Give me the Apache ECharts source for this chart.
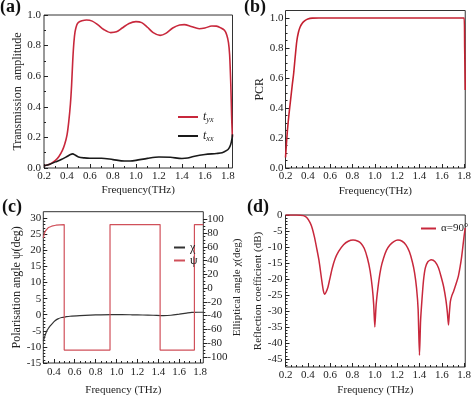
<!DOCTYPE html>
<html><head><meta charset="utf-8">
<script src="https://cdn.jsdelivr.net/npm/echarts@6/dist/echarts.min.js"></script>
<style>html,body{margin:0;padding:0;background:#fff}#c{width:474px;height:397px}</style>
</head><body><div id="c"></div>
<script>
// ---------- data ----------
// (a) transmission amplitude
const aFreqTyx = [0.2,0.25,0.3,0.33,0.36,0.38,0.4,0.415,0.43,0.44,0.45,0.46,0.47,0.485,0.5,0.53,0.57,0.62,0.67,0.72,0.78,0.83,0.88,0.94,1.0,1.05,1.1,1.15,1.21,1.26,1.32,1.38,1.42,1.48,1.55,1.6,1.66,1.7,1.74,1.77,1.79,1.805,1.815,1.825,1.832,1.838,1.84];
const aTyx = [0.015,0.025,0.05,0.075,0.115,0.155,0.215,0.3,0.42,0.54,0.7,0.82,0.89,0.935,0.952,0.962,0.967,0.96,0.935,0.905,0.885,0.89,0.915,0.945,0.957,0.95,0.92,0.885,0.867,0.88,0.915,0.935,0.937,0.925,0.91,0.915,0.928,0.927,0.915,0.9,0.87,0.82,0.74,0.55,0.35,0.22,0.2];
const aFreqTxx = [0.2,0.25,0.3,0.35,0.4,0.43,0.45,0.47,0.5,0.55,0.6,0.7,0.8,0.9,0.95,1.0,1.1,1.2,1.3,1.4,1.45,1.5,1.6,1.7,1.75,1.79,1.81,1.825,1.835,1.84];
const aTxx = [0.015,0.025,0.04,0.055,0.075,0.088,0.092,0.085,0.072,0.066,0.064,0.064,0.055,0.046,0.046,0.05,0.063,0.072,0.07,0.062,0.065,0.075,0.088,0.095,0.1,0.115,0.13,0.155,0.19,0.22];
const aXTicks = [0.2,0.4,0.6,0.8,1.0,1.2,1.4,1.6,1.8];
const aYTicks = [0.0,0.2,0.4,0.6,0.8,1.0];
// (b) PCR
const bFreq = [0.2,0.215,0.23,0.245,0.26,0.273,0.288,0.302,0.316,0.331,0.35,0.374,0.4,0.44,0.5,0.8,1.2,1.6,1.8,1.805,1.81];
const bPcr = [0.07,0.23,0.35,0.45,0.55,0.63,0.75,0.85,0.905,0.94,0.965,0.982,0.993,0.999,1,1,1,1,1,0.8,0.52];
const bXTicks = [0.2,0.4,0.6,0.8,1.0,1.2,1.4,1.6,1.8];
const bYTicks = [0.0,0.2,0.4,0.6,0.8,1.0];
// (c) polarisation angle psi (left axis) and elliptical angle chi (right axis)
const cFreqPsi = [0.3,0.31,0.32,0.332,0.35,0.38,0.42,0.5,0.5,0.938,0.938,1.417,1.417,1.745,1.745,1.83];
const cPsi = [23.9,25.2,26.0,26.6,27.1,27.5,27.8,28.0,-11,-11,28.0,28.0,-11,-11,28.0,28.0];
const cFreqChi = [0.3,0.31,0.32,0.332,0.348,0.364,0.39,0.412,0.44,0.476,0.52,0.555,0.65,0.75,0.85,0.95,1.05,1.15,1.25,1.35,1.45,1.52,1.6,1.67,1.72,1.78,1.83];
const cChi = [-77.0,-72.4,-67.7,-63.0,-58.8,-55.5,-50.9,-47.6,-44.8,-42.9,-41.7,-41.0,-40.1,-39.4,-38.9,-38.7,-38.7,-38.9,-39.2,-39.6,-40.1,-39.6,-38.0,-36.4,-35.4,-35.2,-35.2];
const cXTicks = [0.4,0.6,0.8,1.0,1.2,1.4,1.6,1.8];
const cYLeftTicks = [-15,-10,-5,0,5,10,15,20,25,30];
const cYRightTicks = [-100,-80,-60,-40,-20,0,20,40,60,80,100];
// (d) reflection coefficient
const dFreq = [0.2,0.25,0.3,0.36,0.39,0.42,0.44,0.46,0.48,0.5,0.525,0.54,0.552,0.565,0.58,0.595,0.618,0.645,0.676,0.72,0.762,0.805,0.85,0.877,0.905,0.934,0.958,0.978,0.99,1.0,1.012,1.035,1.055,1.078,1.105,1.135,1.17,1.207,1.245,1.28,1.31,1.336,1.356,1.374,1.388,1.4,1.41,1.422,1.436,1.452,1.475,1.505,1.54,1.57,1.594,1.617,1.637,1.65,1.66,1.668,1.677,1.69,1.706,1.728,1.749,1.765,1.778,1.79,1.8,1.81];
const dRefl = [0,0,0,-0.2,-0.8,-2.4,-4.2,-7.0,-10.5,-14.2,-20.5,-23.8,-24.8,-24.0,-22.6,-20.3,-16.7,-13.6,-11.4,-9.3,-8.2,-7.8,-8.2,-8.9,-10.4,-13.5,-17.5,-22.9,-28.0,-35.0,-28.0,-20.8,-16.5,-13.5,-11.0,-9.4,-8.3,-7.8,-8.2,-9.4,-11.5,-14.6,-18.0,-22.9,-29.5,-43.8,-33.0,-26.6,-20.5,-16.6,-14.6,-14.0,-14.6,-16.5,-19.3,-22.5,-26.6,-30.5,-34.4,-30.5,-27.0,-25.2,-23.8,-21.5,-19.0,-16.0,-13.0,-9.5,-6.5,-4.0];
const dXTicks = [0.2,0.4,0.6,0.8,1.0,1.2,1.4,1.6,1.8];
const dYTicks = [0,-5,-10,-15,-20,-25,-30,-35,-40,-45];

// ---------- helpers ----------
const FONT = 'Liberation Serif';
const INK = '#222';
const RED = '#c8283c';
function zip(xs, ys) { return xs.map((x, i) => [x, ys[i]]); }
function range(a, b, s) { const out = []; const n = Math.round((b - a) / s); for (let i = 0; i <= n; i++) out.push(+(a + i * s).toFixed(6)); return out; }

function axisPair(gridIndex, c) {
  const main = {
    type: 'value', gridIndex, min: c.min, max: c.max, position: c.pos,
    axisLine: { show: false, onZero: false },
    splitLine: { show: false },
    axisTick: { show: true, inside: c.inside !== false, length: 4, customValues: c.major, lineStyle: { color: INK, width: 1 } },
    axisLabel: { show: true, customValues: c.major, margin: c.margin, fontFamily: FONT, fontSize: 11, color: INK, formatter: c.fmt },
    name: c.name, nameLocation: 'middle', nameGap: c.gap,
    nameTextStyle: { fontFamily: FONT, fontSize: c.nameSize || 11, color: INK }
  };
  const minor = {
    type: 'value', gridIndex, min: c.min, max: c.max, position: c.pos,
    axisLine: { show: false, onZero: false }, splitLine: { show: false },
    axisLabel: { show: false },
    axisTick: { show: true, inside: c.inside !== false, length: 2, customValues: c.minor, lineStyle: { color: INK, width: 1 } }
  };
  return [main, minor];
}
const f1 = v => v.toFixed(1);
const f0 = v => String(Math.round(v));

const grids = [
  { left: 44, top: 15, width: 188.5, height: 153 },
  { left: 285.5, top: 10.5, width: 187, height: 157.5 },
  { left: 43.3, top: 211.7, width: 160, height: 153.8 },
  { left: 285.5, top: 215, width: 187, height: 152 }
].map(g => Object.assign({ show: true, borderColor: '#333', borderWidth: 1, backgroundColor: 'transparent' }, g));

const xAxes = [], yAxes = [];
// (a)
xAxes.push(...axisPair(0, { min: 0.2, max: 1.84, pos: 'bottom', major: aXTicks, minor: range(0.2, 1.8, 0.1), margin: 3, fmt: f1, name: 'Frequency(THz)', gap: 17 }));
yAxes.push(...axisPair(0, { min: 0, max: 1, pos: 'left', major: aYTicks, minor: range(0, 1, 0.1), margin: 3, fmt: f1, name: 'Transmission  amplitude', gap: 16, nameSize: 12 }));
// (b)
xAxes.push(...axisPair(1, { min: 0.2, max: 1.81, pos: 'bottom', major: bXTicks, minor: range(0.2, 1.8, 0.05), margin: 3, fmt: f1, name: 'Frequency(THz)', gap: 18 }));
yAxes.push(...axisPair(1, { min: 0, max: 1.05, pos: 'left', major: bYTicks, minor: range(0, 1.0, 0.05), margin: 2, fmt: f1, name: 'PCR', gap: 17, nameSize: 12 }));
// (c)
xAxes.push(...axisPair(2, { min: 0.3, max: 1.83, pos: 'bottom', major: cXTicks, minor: range(0.3, 1.8, 0.05), margin: 4, fmt: f1, name: 'Frequency (THz)', gap: 22 }));
yAxes.push(...axisPair(2, { min: -15, max: 32, pos: 'left', major: cYLeftTicks, minor: range(-15, 30, 1), margin: 2, fmt: f0, name: 'Polarisation angle ψ(deg)', gap: 16, nameSize: 12 }));
yAxes.push(...axisPair(2, { min: -109, max: 111, pos: 'right', inside: false, major: cYRightTicks, minor: range(-100, 100, 5), margin: 4, fmt: f0, name: 'Elliptical angle χ(deg)', gap: 22, nameSize: 11 }));
// (d)
xAxes.push(...axisPair(3, { min: 0.2, max: 1.81, pos: 'bottom', major: dXTicks, minor: range(0.2, 1.8, 0.05), margin: 3, fmt: f1, name: 'Frequency (THz)', gap: 18 }));
yAxes.push(...axisPair(3, { min: -47.5, max: 0, pos: 'left', major: dYTicks, minor: range(-47, 0, 1), margin: 3, fmt: f0, name: 'Reflection coefficient (dB)', gap: 18, nameSize: 11 }));

// main axis indices: x: 0,2,4,6 ; y: 0,2,4(left c),6(right c),8(d)
const series = [
  { name: 'tyx', type: 'line', xAxisIndex: 0, yAxisIndex: 0, data: zip(aFreqTyx, aTyx), smooth: 0.3, showSymbol: false, lineStyle: { color: RED, width: 1.6 }, itemStyle: { color: RED } },
  { name: 'txx', type: 'line', xAxisIndex: 0, yAxisIndex: 0, data: zip(aFreqTxx, aTxx), smooth: 0.3, showSymbol: false, lineStyle: { color: '#1a1a1a', width: 1.6 }, itemStyle: { color: '#1a1a1a' } },
  { name: 'PCR', type: 'line', xAxisIndex: 2, yAxisIndex: 2, data: zip(bFreq, bPcr), smooth: 0.3, showSymbol: false, lineStyle: { color: '#c42030', width: 1.6 }, itemStyle: { color: '#c42030' } },
  { name: 'χ', type: 'line', xAxisIndex: 4, yAxisIndex: 6, data: zip(cFreqChi, cChi), smooth: 0.3, showSymbol: false, lineStyle: { color: '#333', width: 1.2 }, itemStyle: { color: '#333' } },
  { name: 'ψ', type: 'line', xAxisIndex: 4, yAxisIndex: 4, data: zip(cFreqPsi, cPsi), smooth: false, showSymbol: false, lineStyle: { color: '#d0505a', width: 1.2 }, itemStyle: { color: '#d0505a' } },
  { name: 'α=90°', type: 'line', xAxisIndex: 6, yAxisIndex: 8, data: zip(dFreq, dRefl), smooth: 0.2, showSymbol: false, lineStyle: { color: RED, width: 1.5 }, itemStyle: { color: RED } }
];

const legendText = { fontFamily: FONT, fontSize: 12, color: INK };
const legends = [
  { data: ['tyx', 'txx'], orient: 'vertical', left: 173, top: 106, itemWidth: 20, itemHeight: 2, icon: 'rect', itemGap: 6, selectedMode: false,
    formatter: n => n === 'tyx' ? '{i|t}{s|yx}' : '{i|t}{s|xx}',
    textStyle: Object.assign({}, legendText, { rich: { i: { fontFamily: FONT, fontStyle: 'italic', fontSize: 12, color: INK }, s: { fontFamily: FONT, fontStyle: 'italic', fontSize: 8, color: INK, padding: [6, 0, 0, 0] } } }) },
  { data: ['χ', 'ψ'], orient: 'vertical', left: 169, top: 236, itemWidth: 11, itemHeight: 2, icon: 'rect', itemGap: 0, selectedMode: false,
    textStyle: Object.assign({}, legendText, { lineHeight: 13 }) },
  { data: ['α=90°'], orient: 'vertical', left: 416, top: 218, itemWidth: 15, itemHeight: 2, icon: 'rect', selectedMode: false,
    textStyle: Object.assign({}, legendText, { fontSize: 11 }) }
];

const panelLabel = (t, x, y) => ({ type: 'text', left: x, top: y, style: { text: t, fontFamily: FONT, fontWeight: 'bold', fontSize: 18, fill: '#111' } });

const chart = echarts.init(document.getElementById('c'), null, { renderer: 'canvas' });
chart.setOption({
  animation: false,
  backgroundColor: '#fff',
  grid: grids,
  xAxis: xAxes,
  yAxis: yAxes,
  legend: legends,
  series,
  graphic: [panelLabel('(a)', 0, -2), panelLabel('(b)', 244, -2), panelLabel('(c)', 2, 198), panelLabel('(d)', 247, 198)]
});
</script>
</body></html>
